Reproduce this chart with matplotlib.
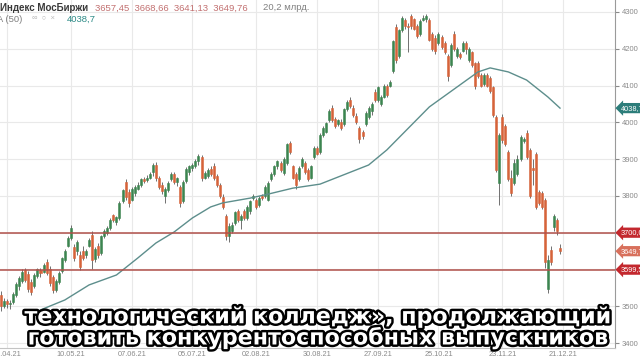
import numpy as np
import matplotlib.pyplot as plt
from matplotlib import patheffects, transforms

plt.rcParams['font.family'] = ['Liberation Sans', 'DejaVu Sans']

# daily candles, MOEX index, Apr-Dec 2021
opens = [3530, 3500, 3515, 3505, 3512, 3530, 3555, 3570, 3598, 3588,
         3565, 3555, 3582, 3598, 3594, 3620, 3600, 3580, 3545, 3565,
         3595, 3625, 3665, 3685, 3660, 3650, 3640, 3650, 3638, 3665,
         3695, 3628, 3665, 3645, 3690, 3700, 3712, 3748, 3728, 3740,
         3785, 3838, 3810, 3790, 3808, 3820, 3830, 3846, 3842, 3850,
         3865, 3885, 3848, 3830, 3800, 3815, 3845, 3860, 3838, 3825,
         3785, 3840, 3865, 3875, 3880, 3895, 3905, 3850, 3855, 3872,
         3882, 3855, 3830, 3798, 3745, 3690, 3705, 3725, 3760, 3735,
         3758, 3740, 3758, 3795, 3790, 3775, 3800, 3800, 3790, 3845,
         3860, 3880, 3890, 3862, 3890, 3945, 3880, 3860, 3845, 3880,
         3890, 3870, 3850, 3905, 3930, 3920, 3965, 3975, 4005, 4040,
         4010, 3995, 4000, 3995, 4035, 4062, 4040, 4018, 3985, 3975,
         3995, 4015, 4030, 4082, 4060, 4050, 4070, 4100, 4098, 4140,
         4260, 4180, 4250, 4278, 4262, 4290, 4280, 4262, 4240, 4278,
         4280, 4278, 4240, 4230, 4215, 4232, 4215, 4180, 4155, 4240,
         4180, 4185, 4195, 4215, 4170, 4190, 4160, 4160, 4130, 4105,
         4130, 4120, 4095, 4015, 3835, 4015, 3990, 3920, 3850, 3836,
         3860, 3900, 3950, 3970, 3925, 3875, 3915, 3810, 3808, 3790,
         3548, 3652, 3716, 3735, 3657.45]
highs = [3542, 3522, 3520, 3518, 3540, 3565, 3582, 3600, 3603, 3595,
         3575, 3590, 3605, 3604, 3618, 3628, 3610, 3585, 3575, 3595,
         3635, 3655, 3690, 3722, 3668, 3680, 3650, 3665, 3655, 3685,
         3705, 3660, 3672, 3695, 3710, 3718, 3740, 3752, 3745, 3785,
         3820, 3845, 3818, 3825, 3830, 3838, 3850, 3852, 3856, 3865,
         3890, 3892, 3855, 3838, 3825, 3840, 3865, 3866, 3852, 3830,
         3842, 3878, 3885, 3890, 3900, 3915, 3910, 3868, 3875, 3880,
         3890, 3860, 3835, 3805, 3750, 3725, 3728, 3760, 3765, 3752,
         3765, 3775, 3790, 3805, 3795, 3800, 3805, 3830, 3840, 3865,
         3885, 3898, 3895, 3905, 3945, 3950, 3885, 3865, 3880, 3905,
         3895, 3875, 3885, 3935, 3935, 3970, 3990, 4002, 4035, 4048,
         4015, 4010, 4008, 4040, 4060, 4068, 4048, 4025, 3990, 3980,
         4030, 4045, 4055, 4090, 4100, 4075, 4105, 4105, 4115, 4225,
         4268, 4255, 4290, 4285, 4270, 4295, 4285, 4268, 4280, 4292,
         4295, 4285, 4245, 4238, 4245, 4238, 4220, 4185, 4215, 4248,
         4205, 4192, 4220, 4222, 4205, 4195, 4165, 4168, 4135, 4135,
         4135, 4125, 4100, 4020, 3972, 4022, 3995, 3925, 3870, 3900,
         3910, 3965, 3960, 3980, 3930, 3900, 3920, 3815, 3812, 3795,
         3640, 3665, 3752, 3740, 3668.66]
lows = [3488, 3495, 3495, 3492, 3505, 3525, 3545, 3562, 3565, 3540,
        3530, 3550, 3578, 3580, 3590, 3585, 3555, 3535, 3540, 3560,
        3590, 3620, 3660, 3680, 3622, 3640, 3598, 3625, 3630, 3660,
        3600, 3620, 3630, 3640, 3685, 3695, 3708, 3730, 3720, 3735,
        3780, 3790, 3770, 3785, 3800, 3815, 3825, 3835, 3838, 3845,
        3855, 3840, 3818, 3805, 3780, 3810, 3840, 3832, 3828, 3770,
        3780, 3835, 3858, 3868, 3875, 3885, 3840, 3845, 3848, 3855,
        3842, 3825, 3795, 3765, 3680, 3675, 3698, 3720, 3730, 3710,
        3735, 3735, 3750, 3790, 3765, 3770, 3788, 3795, 3785, 3840,
        3855, 3872, 3865, 3858, 3885, 3915, 3845, 3820, 3840, 3875,
        3860, 3840, 3845, 3900, 3910, 3915, 3960, 3970, 4000, 4000,
        3985, 3990, 3980, 3990, 4030, 4040, 4015, 3995, 3945, 3955,
        3990, 4010, 4020, 4055, 4055, 4045, 4065, 4070, 4095, 4135,
        4160, 4175, 4245, 4255, 4190, 4255, 4250, 4230, 4235, 4275,
        4272, 4220, 4195, 4185, 4210, 4200, 4185, 4112, 4150, 4195,
        4175, 4172, 4190, 4185, 4165, 4150, 4090, 4120, 4095, 4100,
        4095, 4080, 4015, 3865, 3775, 3945, 3935, 3840, 3800, 3830,
        3855, 3895, 3945, 3900, 3795, 3830, 3765, 3775, 3765, 3605,
        3536, 3612, 3705, 3695, 3641.13]
closes = [3500, 3515, 3505, 3510, 3532, 3560, 3577, 3593, 3572, 3548,
          3540, 3585, 3600, 3590, 3612, 3590, 3562, 3545, 3570, 3590,
          3630, 3650, 3685, 3712, 3630, 3675, 3608, 3632, 3650, 3680,
          3625, 3655, 3640, 3690, 3705, 3712, 3735, 3735, 3742, 3780,
          3815, 3798, 3782, 3820, 3825, 3830, 3845, 3840, 3850, 3860,
          3885, 3848, 3825, 3812, 3820, 3835, 3860, 3838, 3848, 3780,
          3838, 3872, 3880, 3885, 3895, 3908, 3848, 3862, 3870, 3860,
          3848, 3830, 3800, 3770, 3690, 3718, 3722, 3755, 3735, 3745,
          3740, 3770, 3785, 3800, 3770, 3795, 3795, 3825, 3835, 3860,
          3880, 3895, 3870, 3900, 3940, 3920, 3850, 3830, 3875, 3900,
          3865, 3845, 3880, 3930, 3915, 3965, 3985, 3998, 4030, 4005,
          3990, 4005, 3985, 4035, 4055, 4045, 4020, 4000, 3955, 3962,
          4025, 4040, 4050, 4060, 4095, 4070, 4100, 4075, 4110, 4220,
          4170, 4250, 4285, 4262, 4258, 4262, 4255, 4235, 4275, 4285,
          4288, 4225, 4200, 4195, 4240, 4205, 4190, 4125, 4210, 4200,
          4200, 4178, 4215, 4200, 4200, 4155, 4100, 4125, 4100, 4130,
          4100, 4085, 4020, 3870, 3965, 3952, 3940, 3845, 3808, 3890,
          3900, 3960, 3955, 3905, 3800, 3870, 3770, 3780, 3770, 3620,
          3625, 3620, 3745, 3705, 3649.76]

# MA(50) as drawn on the chart, read at some bars
ma_bars = [13, 21, 29, 38, 45, 51, 57, 63, 69, 73, 82, 88, 96, 105,
           121, 127, 141, 157, 161, 167, 173, 180, 184]
ma_values = [3490, 3517, 3558, 3585, 3631, 3672, 3702, 3740, 3770, 3781,
             3794, 3805, 3821, 3832, 3884, 3925, 4042, 4137, 4148, 4137,
             4115, 4069, 4038.7]

date_labels = ['12.04.21', '10.05.21', '07.06.21', '05.07.21', '02.08.21',
               '30.08.21', '27.09.21', '25.10.21', '23.11.21', '21.12.21']
date_bars = [2, 23, 43, 63, 84, 104, 124, 144, 165, 185]
y_ticks = [3400, 3500, 3600, 3700, 3800, 3900, 4000, 4100, 4200, 4300]

levels = [3700.0, 3599.5]
header_ohlc = ['3657,45', '3668,66', '3641,13', '3649,76']
volume_text = '20,2 млрд.'
subtitle = ['технологический колледж», продолжающий',
            'готовить конкурентоспособных выпускников']

UP, DOWN, WICK = '#3c8550', '#d6633a', '#5a5a5a'
W, H = 640, 360

fig = plt.figure(figsize=(W / 100, H / 100), dpi=100)
ax = fig.add_axes([0, 12 / H, 615 / W, 348 / H])

x = np.arange(len(closes))
o = np.array(opens)
c = np.array(closes)
cols = np.where(c >= o, UP, DOWN)
ax.vlines(x, lows, highs, color=WICK, lw=0.6, zorder=2)
ax.bar(x, c - o, bottom=o, width=0.66, color=cols, edgecolor=cols, lw=0.4, zorder=3)
ax.plot(ma_bars, ma_values, color='#5d8e8c', lw=1.0, zorder=4)
for lv in levels:
    ax.axhline(lv, color='#b0504a', lw=1.1, zorder=5)

ax.set_xlim(-0.33, 202.1)
ax.set_ylim(3386.5, 4332.6)
ax.set_xticks(date_bars)
ax.set_xticklabels(date_labels)
ax.set_yticks(y_ticks)
# the price tags cover the 3600 and 3700 labels
ax.set_yticklabels(['' if v in (3600, 3700) else str(v) for v in y_ticks])
ax.grid(color='#e9e9e9', lw=0.8)
ax.set_axisbelow(True)
for s in ['left', 'top']:
    ax.spines[s].set_visible(False)
ax.spines['right'].set_color('#9a9a9a')
ax.spines['bottom'].set_color('#c4c4c4')
ax.spines['right'].set_linewidth(0.8)
ax.spines['bottom'].set_linewidth(0.8)
ax.yaxis.tick_right()
ax.tick_params(axis='y', length=3, pad=2, labelsize=5.5, colors='#8a8a8a')
ax.tick_params(axis='x', length=0, pad=2, labelsize=5.3, labelcolor='#8a8a8a')

# price tags on the right axis
trans = transforms.blended_transform_factory(ax.transAxes, ax.transData)
tags = [(ma_values[-1], '#2c7d7a'), (levels[0], '#c3282e'),
        (closes[-1], '#d8705c'), (levels[1], '#c3282e')]
for val, colr in tags:
    ax.text(1 + 6 / 615, val, f'{val:.2f}'.replace('.', ','), transform=trans,
            ha='left', va='center', fontsize=5.3, color='white',
            bbox=dict(boxstyle='larrow,pad=0.22', fc=colr, ec='none'),
            clip_on=False, zorder=10)

# header
def fpos(xp, yp):
    return xp / W, 1 - yp / H

fig.text(*fpos(88, 8), 'Индекс МосБиржи', ha='right', va='center',
         fontsize=7, fontweight='bold', color='#3a3a3a')
fig.text(*fpos(95, 8), '  '.join(header_ohlc) + '  ', ha='left', va='center',
         fontsize=6.8, color='#c27070')
fig.text(*fpos(263, 8), volume_text, ha='left', va='center', fontsize=6.8, color='#808080')
fig.text(*fpos(22, 19), 'MA (50)', ha='right', va='center', fontsize=6.8, color='#808080')
fig.text(*fpos(32, 19), '∞  ○  ×', ha='left', va='center', fontsize=5.5, color='#bbbbbb')
fig.text(*fpos(67, 19), f'{ma_values[-1]:.1f}'.replace('.', ','), ha='left', va='center',
         fontsize=6.8, color='#2c8a86')

# burned-in subtitle
r = fig.canvas.get_renderer()
probe = fig.text(0, 0, subtitle[1], fontsize=10, family='DejaVu Sans', fontweight='bold')
fs = 10 * 580 / probe.get_window_extent(r).width
probe.remove()
for line, yp in zip(subtitle, [317, 338]):
    fig.text(*fpos(318, yp), line, ha='center', va='center', fontsize=fs,
             family='DejaVu Sans', fontweight='bold', color='white', zorder=20,
             path_effects=[patheffects.withStroke(linewidth=3.5, foreground='black')])

fig.savefig('out.png', dpi=100)
